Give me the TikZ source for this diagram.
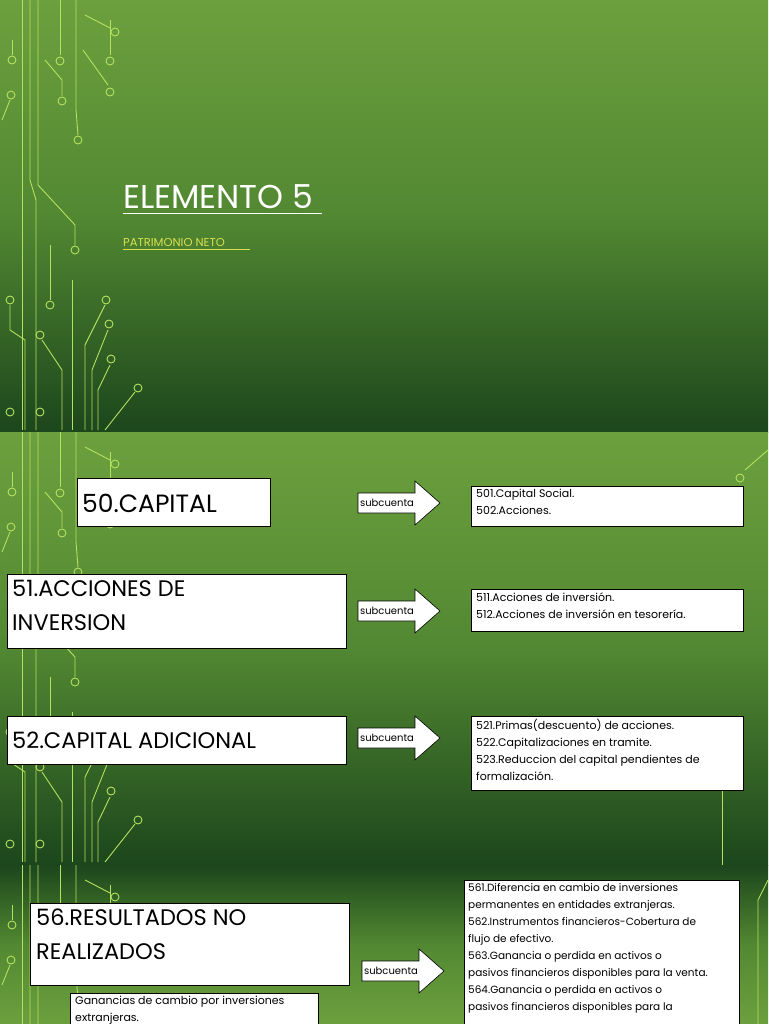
\documentclass[tikz,border=0pt]{standalone}
\usepackage{fontspec}
\setmainfont{Poppins}
\definecolor{bgtop}{RGB}{108,160,62}
\definecolor{bgmid}{RGB}{82,136,50}
\definecolor{bgbot}{RGB}{28,70,28}
\definecolor{trace}{RGB}{180,225,95}
\definecolor{subcol}{RGB}{215,225,80}
\begin{document}
\begin{tikzpicture}[x=1pt,y=-1pt,
  wbox/.style={draw=black,fill=white,line width=0.8pt,inner sep=0pt},
  circ/.style={draw=trace,line width=0.9pt},
  sub/.style={font=\fontsize{10}{11}\selectfont,text=black},
  item/.style={font=\fontsize{11}{17}\selectfont,text=black,align=left,anchor=north west,inner sep=0pt}]
\useasboundingbox (0,0) rectangle (768,1024);
% backgrounds
\shade[top color=bgtop,bottom color=bgbot,middle color=bgmid] (0,0) rectangle (768,432);
\shade[top color=bgtop,bottom color=bgbot,middle color=bgmid] (0,432) rectangle (768,865);
\shade[top color=bgbot,bottom color=bgtop,middle color=bgmid] (0,865) rectangle (768,1024);
% circuit decoration (approximate)
\begin{scope}[circ]
\foreach \yo in {0,432,865}{
 \draw (22,\yo) -- (22,\yo+430);
 \draw (30,\yo) -- (30,\yo+180) -- (36,\yo+200) -- (36,\yo+430);
 \draw (38,\yo) -- (38,\yo+185) -- (75,\yo+225) -- (75,\yo+245);
 \draw (75,\yo+250) circle (4);
 \draw (76,\yo) -- (76,\yo+110) -- (78,\yo+135);
 \draw (78,\yo+140) circle (4);
 \draw (12,\yo+40) -- (12,\yo+55); \draw (12,\yo+60) circle (4);
 \draw (10,\yo+100) -- (2,\yo+120); \draw (11,\yo+95) circle (4);
 \draw (45,\yo+60) -- (62,\yo+80) -- (62,\yo+96); \draw (62,\yo+101) circle (4);
 \draw (60,\yo) -- (60,\yo+55); \draw (60,\yo+61) circle (4);
 \draw (85,\yo+15) -- (110,\yo+28); \draw (115,\yo+32) circle (4);
 \draw (83,\yo+50) -- (108,\yo+85); \draw (110,\yo+92) circle (4);
 \draw (110,\yo+20) -- (110,\yo+55); \draw (110,\yo+61) circle (4);
 \draw (10,\yo+305) -- (10,\yo+330) -- (25,\yo+340) -- (25,\yo+430);
 \draw (10,\yo+300) circle (4);
 \draw (50,\yo+245) -- (50,\yo+300); \draw (50,\yo+305) circle (4);
 \draw (72,\yo+280) -- (72,\yo+430);
 \draw (42,\yo+340) -- (62,\yo+370) -- (62,\yo+430); \draw (40,\yo+335) circle (4);
 \draw (105,\yo+305) -- (85,\yo+345) -- (85,\yo+430); \draw (106,\yo+300) circle (4);
 \draw (108,\yo+330) -- (92,\yo+370) -- (92,\yo+430); \draw (109,\yo+324) circle (4);
 \draw (110,\yo+365) -- (98,\yo+390) -- (98,\yo+430); \draw (111,\yo+359) circle (4);
 \draw (135,\yo+392) -- (105,\yo+430); \draw (138,\yo+388) circle (4);
 \draw (10,\yo+412) circle (4); \draw (40,\yo+412) circle (4);
}
\draw (768,450) -- (745,470); \draw (740,478) circle (4) ;
\draw (722,760) -- (722,865); \draw (722,755) circle (4);
\draw (758,1024) -- (758,900) -- (768,880);
\end{scope}
% slide 1 title
\node[anchor=base west,text=white,font=\fontsize{33}{33}\selectfont,inner sep=0pt] (title) at (123,209) {ELEMENTO 5};
\draw[white,line width=1pt] (123,214) -- (322,214);
\node[anchor=base west,text=subcol,font=\fontsize{11.5}{12}\selectfont,inner sep=0pt] (subt) at (123,246) {PATRIMONIO NETO};
\draw[subcol,line width=0.6pt] (123,249) -- (250,249);
\tikzset{barrow/.pic={\draw[fill=white,line width=0.6pt] (0,-10) -- (57,-10) -- (57,-22) -- (82,0) -- (57,22) -- (57,10) -- (0,10) -- cycle;}}
% slide 2
\node[wbox,minimum width=193,minimum height=48,anchor=north west] (c50) at (77,478) {};
\node[anchor=west,font=\fontsize{25}{25}\selectfont,inner sep=0pt] (t50) at (82,503) {50.CAPITAL};
\node[wbox,minimum width=339,minimum height=74,anchor=north west] (c51) at (7,574) {};
\node[anchor=north west,align=left,font=\fontsize{22.5}{34}\selectfont,inner sep=0pt] (t51) at (12,580) {51.ACCIONES DE\\INVERSION};
\node[wbox,minimum width=339,minimum height=48,anchor=north west] (c52) at (7,716) {};
\node[anchor=west,font=\fontsize{22.5}{23}\selectfont,inner sep=0pt] (t52) at (12,740) {52.CAPITAL ADICIONAL};
\pic at (358,503) {barrow}; \node[sub] (a1) at (387,503) {subcuenta};
\pic at (358,611) {barrow}; \node[sub] (a2) at (387,611) {subcuenta};
\pic at (358,738) {barrow}; \node[sub] (a3) at (387,738) {subcuenta};
\node[wbox,minimum width=272,minimum height=40,anchor=north west] (r50) at (471,486) {};
\node[item] at (476,489) {501.Capital Social.\\502.Acciones.};
\node[wbox,minimum width=272,minimum height=42,anchor=north west] (r51) at (471,589) {};
\node[item] at (476,593) {511.Acciones de inversión.\\512.Acciones de inversión en tesorería.};
\node[wbox,minimum width=272,minimum height=74,anchor=north west] (r52) at (471,716) {};
\node[item] at (476,719) {521.Primas(descuento) de acciones.\\522.Capitalizaciones en tramite.\\523.Reduccion del capital pendientes de\\formalización.};
% slide 3
\node[wbox,minimum width=319,minimum height=82,anchor=north west] (c56) at (30,903) {};
\node[anchor=north west,align=left,font=\fontsize{22.5}{34}\selectfont,inner sep=0pt] (t56) at (36,909) {56.RESULTADOS NO\\REALIZADOS};
\pic at (362,971) {barrow}; \node[sub] (a4) at (391,971) {subcuenta};
\node[wbox,minimum width=248,minimum height=40,anchor=north west] (g) at (70,993) {};
\node[item] at (75,996) {Ganancias de cambio por inversiones\\extranjeras.};
\node[wbox,minimum width=275,minimum height=160,anchor=north west] (r56) at (464,880) {};
\node[item,font=\fontsize{10.5}{17}\selectfont] at (468,883) {561.Diferencia en cambio de inversiones\\permanentes en entidades extranjeras.\\562.Instrumentos financieros-Cobertura de\\flujo de efectivo.\\563.Ganancia o perdida en activos o\\pasivos financieros disponibles para la venta.\\564.Ganancia o perdida en activos o\\pasivos financieros disponibles para la};
\end{tikzpicture}
\end{document}
